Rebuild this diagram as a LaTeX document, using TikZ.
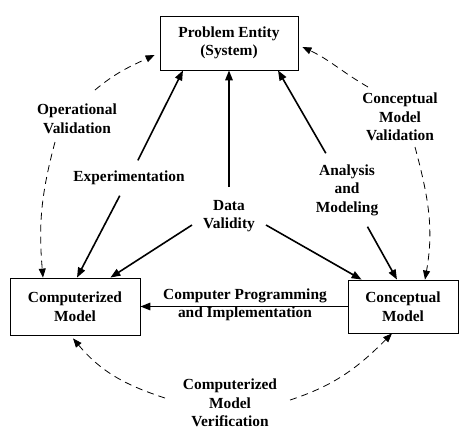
\documentclass[tikz,border=0pt]{standalone}
\usepackage{fontspec}
\setmainfont{Liberation Serif}
\usetikzlibrary{arrows.meta}
\begin{document}
\begin{tikzpicture}[x=1pt,y=-1pt,
  txt/.style={font=\bfseries\fontsize{15.4}{18.5}\selectfont, align=center, inner sep=0pt},
  boxnode/.style={txt, draw, line width=0.8pt},
  arr/.style={line width=1.6pt, -{Triangle[length=10pt,width=7.5pt]}},
  darr/.style={line width=0.8pt, dash pattern=on 7pt off 5pt, -{Triangle[length=9pt,width=7pt]}}]
\useasboundingbox (0,0) rectangle (474,432);
% boxes
\node[boxnode, minimum width=138pt, minimum height=54pt] (pe) at (229,43) {Problem Entity\\(System)};
\node[boxnode, minimum width=130pt, minimum height=57pt] (cm) at (75,306.5) {Computerized\\Model};
\node[boxnode, minimum width=110pt, minimum height=53pt] (com) at (403,306.5) {Conceptual\\Model};
% labels
\node[txt, inner ysep=10.5pt] (exp) at (129,178) {Experimentation};
\node[txt] (dv) at (229,216) {Data\\Validity};
\node[txt, inner ysep=11pt] (an) at (347,190) {Analysis\\and\\Modeling};
\node[txt] (cp) at (245,305) {Computer Programming\\and Implementation};
\node[txt] (ov) at (77,119) {Operational\\Validation};
\node[txt] (cmv) at (400,117) {Conceptual\\Model\\Validation};
\node[txt] (cmver) at (230,403) {Computerized\\Model\\Verification};
% solid arrows
\draw[arr] (exp) -- ([xshift=-46pt]pe.south);
\draw[arr] (exp) -- ([xshift=2pt]cm.north);
\draw[arr] ([shift={(0,-29)}]dv.center) -- (pe.south);
\draw[arr] ([shift={(-37,9)}]dv.center) -- ([xshift=-30pt]cm.north east);
\draw[arr] ([shift={(37,9)}]dv.center) -- ([xshift=14pt]com.north west);
\draw[arr] (an) -- ([xshift=49pt]pe.south);
\draw[arr] (an) -- ([xshift=-6pt]com.north);
\draw[arr] (com.west) -- (cm.east);
% dashed arrows
\draw[darr] ([shift={(18,-29)}]ov.center) to[out=40,in=205] ([shift={(-5,12)}]pe.west);
\draw[darr] ([shift={(-22,23)}]ov.center) to[out=255,in=95] ([xshift=-32pt]cm.north);
\draw[darr] ([shift={(-32,-30)}]cmv.center) to[out=150,in=335] ([shift={(4,4)}]pe.east);
\draw[darr] ([shift={(15,30)}]cmv.center) to[out=285,in=80] ([xshift=22pt]com.north);
\draw[darr] ([shift={(-65,-5)}]cmver.center) to[out=162,in=310] ([shift={(-2,3)}]cm.south);
\draw[darr] ([shift={(60,-3)}]cmver.center) to[out=18,in=225] ([shift={(-11,0)}]com.south);
\end{tikzpicture}
\end{document}
